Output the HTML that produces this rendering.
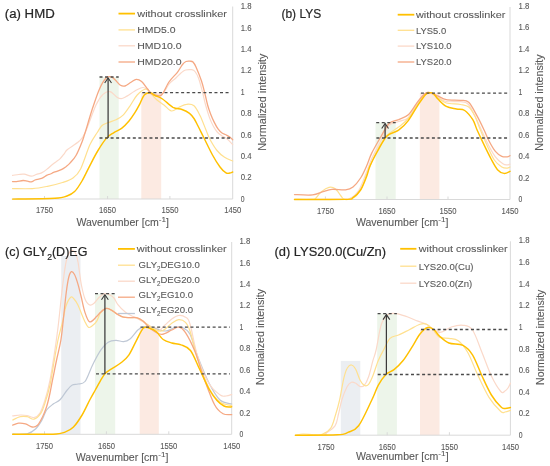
<!DOCTYPE html>
<html><head><meta charset="utf-8"><style>
html,body{margin:0;padding:0;background:#fff;}
svg{display:block;filter:blur(0.3px);font-family:"Liberation Sans",sans-serif;}
.ttl{stroke-width:0.2px;}
</style></head><body>
<svg width="550" height="466" viewBox="0 0 550 466">
<rect width="550" height="466" fill="#fff"/>
<rect x="99.5" y="77.0" width="19.2" height="122.0" fill="#EDF5EA"/>
<rect x="141.3" y="92.7" width="19.9" height="106.3" fill="#FCEAE2"/>
<line x1="12.5" y1="199.0" x2="232.7" y2="199.0" stroke="#D9D9D9" stroke-width="1.00"/>
<line x1="232.7" y1="6.5" x2="232.7" y2="199.0" stroke="#D9D9D9" stroke-width="1.00"/>
<line x1="44.5" y1="196.0" x2="44.5" y2="199.0" stroke="#D9D9D9" stroke-width="1.00"/>
<text stroke-width="0.1" x="44.5" y="213.3" font-size="8.28" fill="#595959" stroke="#595959" text-anchor="middle" textLength="17.0" lengthAdjust="spacingAndGlyphs">1750</text>
<line x1="107.6" y1="196.0" x2="107.6" y2="199.0" stroke="#D9D9D9" stroke-width="1.00"/>
<text stroke-width="0.1" x="107.6" y="213.3" font-size="8.28" fill="#595959" stroke="#595959" text-anchor="middle" textLength="17.0" lengthAdjust="spacingAndGlyphs">1650</text>
<line x1="169.9" y1="196.0" x2="169.9" y2="199.0" stroke="#D9D9D9" stroke-width="1.00"/>
<text stroke-width="0.1" x="169.9" y="213.3" font-size="8.28" fill="#595959" stroke="#595959" text-anchor="middle" textLength="17.0" lengthAdjust="spacingAndGlyphs">1550</text>
<text stroke-width="0.1" x="232.7" y="213.3" font-size="8.28" fill="#595959" stroke="#595959" text-anchor="middle" textLength="17.0" lengthAdjust="spacingAndGlyphs">1450</text>
<text stroke-width="0.1" x="240.7" y="201.8" font-size="8.28" fill="#595959" stroke="#595959" text-anchor="start" textLength="3.8" lengthAdjust="spacingAndGlyphs">0</text>
<text stroke-width="0.1" x="240.7" y="180.4" font-size="8.28" fill="#595959" stroke="#595959" text-anchor="start" textLength="10.8" lengthAdjust="spacingAndGlyphs">0.2</text>
<text stroke-width="0.1" x="240.7" y="159.0" font-size="8.28" fill="#595959" stroke="#595959" text-anchor="start" textLength="10.8" lengthAdjust="spacingAndGlyphs">0.4</text>
<text stroke-width="0.1" x="240.7" y="137.7" font-size="8.28" fill="#595959" stroke="#595959" text-anchor="start" textLength="10.8" lengthAdjust="spacingAndGlyphs">0.6</text>
<text stroke-width="0.1" x="240.7" y="116.2" font-size="8.28" fill="#595959" stroke="#595959" text-anchor="start" textLength="10.8" lengthAdjust="spacingAndGlyphs">0.8</text>
<text stroke-width="0.1" x="240.7" y="94.8" font-size="8.28" fill="#595959" stroke="#595959" text-anchor="start" textLength="3.8" lengthAdjust="spacingAndGlyphs">1</text>
<text stroke-width="0.1" x="240.7" y="73.4" font-size="8.28" fill="#595959" stroke="#595959" text-anchor="start" textLength="10.8" lengthAdjust="spacingAndGlyphs">1.2</text>
<text stroke-width="0.1" x="240.7" y="52.0" font-size="8.28" fill="#595959" stroke="#595959" text-anchor="start" textLength="10.8" lengthAdjust="spacingAndGlyphs">1.4</text>
<text stroke-width="0.1" x="240.7" y="30.6" font-size="8.28" fill="#595959" stroke="#595959" text-anchor="start" textLength="10.8" lengthAdjust="spacingAndGlyphs">1.6</text>
<text stroke-width="0.1" x="240.7" y="9.3" font-size="8.28" fill="#595959" stroke="#595959" text-anchor="start" textLength="10.8" lengthAdjust="spacingAndGlyphs">1.8</text>
<text stroke-width="0.1" transform="translate(265.9 150.7) rotate(-90)" font-size="10.17" fill="#595959" stroke="#595959" textLength="97.1" lengthAdjust="spacingAndGlyphs">Normalized intensity</text>
<text stroke-width="0.1" x="76.4" y="225.6" font-size="10.32" fill="#595959" stroke="#595959" textLength="92.6" lengthAdjust="spacingAndGlyphs">Wavenumber [cm<tspan font-size="7.99" dy="-4">-1</tspan><tspan dy="4">]</tspan></text>
<path d="M12.5 175.3 C13.5 175.2 16.8 174.7 18.7 174.5 C20.6 174.3 22.1 173.9 24.2 174.2 C26.3 174.5 29.3 176.1 31.3 176.2 C33.3 176.2 34.5 175.1 36.2 174.5 C37.9 173.9 39.8 173.8 41.6 172.9 C43.4 172.0 45.5 170.4 47.1 169.1 C48.8 167.8 50.0 166.5 51.5 165.3 C53.0 164.1 54.3 163.1 55.8 162.0 C57.2 160.9 58.8 160.1 60.2 158.7 C61.7 157.2 63.3 154.8 64.5 153.3 C65.7 151.8 65.1 151.5 67.5 149.5 C69.9 147.5 76.1 144.1 79.0 141.3 C81.9 138.6 82.2 139.1 85.0 133.0 C87.8 127.0 93.0 111.4 96.0 105.0 C99.0 98.6 100.7 96.6 103.0 94.4 C105.3 92.2 107.7 91.1 110.0 91.6 C112.3 92.1 115.2 96.0 117.0 97.2 C118.8 98.4 119.8 98.6 121.1 98.6 C122.4 98.6 122.3 98.7 125.0 97.2 C127.7 95.7 134.0 91.4 137.0 89.8 C140.0 88.2 141.2 87.5 143.0 87.5 C144.8 87.5 145.6 88.5 147.6 89.8 C149.6 91.0 152.5 94.3 155.0 95.0 C157.5 95.7 160.1 95.7 162.5 93.8 C164.9 91.9 167.2 86.1 169.3 83.6 C171.5 81.0 173.5 80.3 175.4 78.5 C177.3 76.7 179.3 74.4 181.0 73.0 C182.7 71.6 183.8 70.5 185.6 70.0 C187.4 69.5 190.1 69.5 191.7 69.7 C193.3 70.0 193.9 70.1 195.0 71.5 C196.1 72.9 197.2 74.6 198.5 78.0 C199.8 81.4 201.3 87.5 202.5 92.0 C203.7 96.5 204.4 100.7 205.6 105.0 C206.8 109.3 208.2 114.0 209.5 117.6 C210.8 121.1 212.1 123.9 213.4 126.3 C214.7 128.7 215.8 130.4 217.2 132.0 C218.6 133.6 220.4 134.8 222.0 135.9 C223.6 137.0 225.1 137.4 226.9 138.8 C228.7 140.2 231.7 143.6 232.7 144.6" fill="none" stroke="#FBD9C9" stroke-width="1.20" stroke-linecap="round" stroke-linejoin="round"/>
<path d="M12.5 188.6 C15.8 188.6 26.7 189.0 32.5 188.6 C38.3 188.2 42.5 187.3 47.5 186.3 C52.5 185.3 58.2 183.9 62.5 182.5 C66.8 181.1 70.0 180.2 73.0 178.0 C76.0 175.8 77.8 174.6 80.6 169.0 C83.4 163.4 87.2 150.6 90.0 144.6 C92.8 138.6 95.1 136.0 97.1 132.8 C99.1 129.7 100.0 127.4 101.8 125.7 C103.6 124.0 105.3 123.8 107.7 122.8 C110.1 121.8 113.4 121.1 116.0 119.8 C118.6 118.5 120.7 117.5 123.1 115.1 C125.5 112.7 127.8 108.9 130.2 105.6 C132.5 102.2 134.6 97.8 137.2 95.0 C139.8 92.2 143.8 89.2 146.0 89.0 C148.2 88.8 148.8 91.7 150.6 93.5 C152.4 95.3 154.8 98.1 157.0 100.0 C159.2 101.9 161.6 103.2 164.0 105.0 C166.4 106.8 169.0 110.6 171.5 111.0 C174.0 111.4 176.5 108.4 179.0 107.3 C181.5 106.2 184.0 104.5 186.5 104.3 C189.0 104.0 191.8 103.9 194.0 105.8 C196.2 107.7 198.0 111.5 200.0 115.5 C202.0 119.5 204.4 126.2 206.0 130.0 C207.6 133.8 207.7 135.1 209.5 138.5 C211.3 141.9 214.5 147.4 217.0 150.5 C219.5 153.6 222.0 155.6 224.6 157.3 C227.2 159.1 231.3 160.4 232.7 161.0" fill="none" stroke="#FFE08F" stroke-width="1.20" stroke-linecap="round" stroke-linejoin="round"/>
<path d="M12.5 181.6 C13.2 181.6 14.7 181.8 16.5 181.6 C18.3 181.4 21.3 180.6 23.1 180.5 C24.9 180.4 26.1 180.9 27.5 181.1 C28.9 181.3 30.0 182.1 31.3 181.9 C32.6 181.7 33.7 180.5 35.1 180.0 C36.5 179.5 38.2 179.3 39.5 178.9 C40.8 178.5 41.4 178.4 42.7 177.8 C44.0 177.2 45.8 175.7 47.1 175.1 C48.4 174.5 49.3 174.4 50.4 174.0 C51.5 173.6 52.5 172.8 53.6 172.4 C54.7 172.0 55.6 171.8 56.9 171.3 C58.2 170.8 59.8 170.3 61.3 169.6 C62.8 168.9 64.1 168.0 65.6 166.9 C67.0 165.8 68.3 165.0 70.0 163.1 C71.7 161.2 74.0 159.0 76.0 155.5 C78.0 152.0 80.5 145.8 82.0 142.0 C83.5 138.2 83.3 138.3 85.0 133.0 C86.7 127.7 89.6 117.3 92.0 110.0 C94.4 102.7 97.1 94.4 99.5 89.0 C101.9 83.6 104.3 79.8 106.3 77.8 C108.3 75.8 110.0 76.6 111.5 77.0 C113.0 77.4 113.8 78.6 115.3 80.0 C116.8 81.4 118.9 84.3 120.5 85.3 C122.1 86.3 123.2 86.5 125.0 86.0 C126.8 85.5 129.1 83.4 131.0 82.3 C132.9 81.2 134.5 79.4 136.3 79.3 C138.1 79.2 139.7 79.9 141.6 81.5 C143.5 83.1 145.9 86.9 147.6 89.0 C149.3 91.1 150.4 93.2 152.0 94.3 C153.6 95.3 155.4 95.2 157.0 95.3 C158.6 95.4 159.8 97.1 161.8 94.8 C163.9 92.5 166.7 85.2 169.3 81.5 C171.9 77.8 175.2 75.1 177.4 72.3 C179.6 69.5 181.1 66.3 182.5 64.5 C183.9 62.7 184.8 62.0 186.0 61.5 C187.2 61.0 188.8 61.1 190.0 61.2 C191.2 61.3 192.0 61.0 193.0 62.0 C194.0 63.0 194.6 63.8 196.0 67.0 C197.4 70.2 200.0 76.5 201.5 81.0 C203.0 85.5 204.0 90.0 205.0 94.0 C206.0 98.0 206.7 101.7 207.6 105.0 C208.5 108.3 209.4 110.8 210.5 113.7 C211.6 116.6 213.0 119.8 214.3 122.4 C215.6 125.0 216.9 127.4 218.2 129.2 C219.5 131.0 220.7 132.1 222.0 133.0 C223.3 133.9 224.6 134.1 225.9 134.8 C227.2 135.5 228.7 136.2 229.8 137.0 C230.9 137.8 232.2 139.3 232.7 139.8" fill="none" stroke="#F5A883" stroke-width="1.30" stroke-linecap="round" stroke-linejoin="round"/>
<path d="M12.5 199.1 C19.6 199.0 45.9 198.8 55.0 198.3 C64.1 197.8 63.7 197.1 67.0 196.0 C70.3 194.9 72.1 194.1 74.6 191.6 C77.1 189.1 79.4 185.4 82.0 181.0 C84.6 176.6 87.3 170.5 90.0 165.3 C92.7 160.1 95.5 154.5 98.3 150.0 C101.0 145.5 104.0 141.0 106.5 138.1 C109.0 135.2 111.0 134.5 113.6 132.8 C116.2 131.1 119.3 130.1 121.9 128.1 C124.5 126.1 126.8 123.6 129.0 121.0 C131.2 118.4 133.1 115.5 134.9 112.7 C136.7 109.9 138.0 107.4 139.6 104.4 C141.2 101.5 142.5 96.9 144.3 95.0 C146.1 93.1 148.8 92.7 150.6 92.8 C152.4 92.9 153.0 94.5 155.0 95.5 C157.0 96.5 159.5 97.0 162.5 99.0 C165.5 101.0 169.8 105.5 173.0 107.3 C176.2 109.0 179.2 108.5 182.0 109.5 C184.8 110.5 187.5 111.8 189.5 113.3 C191.5 114.8 192.6 116.4 194.0 118.5 C195.4 120.6 196.4 122.9 198.0 126.0 C199.6 129.1 201.1 132.2 203.5 137.0 C205.9 141.8 209.8 150.0 212.5 155.0 C215.2 160.0 217.8 164.0 220.0 167.0 C222.2 170.0 224.2 171.9 226.0 172.9 C227.8 173.9 229.5 173.1 230.6 172.9 C231.7 172.8 232.3 172.2 232.7 172.0" fill="none" stroke="#FFC000" stroke-width="1.45" stroke-linecap="round" stroke-linejoin="round"/>
<line x1="99.5" y1="77.0" x2="118.7" y2="77.0" stroke="#4A4A4A" stroke-width="1.30" stroke-dasharray="3 2.55"/>
<line x1="142.3" y1="92.7" x2="231.0" y2="92.7" stroke="#4A4A4A" stroke-width="1.30" stroke-dasharray="3 2.55"/>
<line x1="99.5" y1="138.0" x2="232.0" y2="138.0" stroke="#4A4A4A" stroke-width="1.30" stroke-dasharray="3 2.55"/>
<line x1="108.1" y1="138.0" x2="108.1" y2="78.2" stroke="#3A3A3A" stroke-width="1.25"/>
<polyline points="104.7,83.0 108.1,78.0 111.5,83.0" fill="none" stroke="#3A3A3A" stroke-width="1.1"/>
<text stroke-width="0.1" x="4.8" y="18.4" font-size="12.65" fill="#262626" stroke="#262626" text-anchor="start" textLength="49.9" lengthAdjust="spacingAndGlyphs" class="ttl">(a) HMD</text>
<line x1="118.5" y1="13.6" x2="135.0" y2="13.6" stroke="#FFC000" stroke-width="1.80"/>
<text stroke-width="0.1" x="137.3" y="17.1" font-size="9.88" fill="#595959" stroke="#595959" text-anchor="start" textLength="89.7" lengthAdjust="spacingAndGlyphs">without crosslinker</text>
<line x1="118.5" y1="29.9" x2="135.0" y2="29.9" stroke="#FFE08F" stroke-width="1.30"/>
<text stroke-width="0.1" x="137.3" y="33.2" font-size="9.88" fill="#595959" stroke="#595959" text-anchor="start" textLength="38.2" lengthAdjust="spacingAndGlyphs">HMD5.0</text>
<line x1="118.5" y1="45.8" x2="135.0" y2="45.8" stroke="#FBD9C9" stroke-width="1.30"/>
<text stroke-width="0.1" x="137.3" y="49.1" font-size="9.88" fill="#595959" stroke="#595959" text-anchor="start" textLength="44.3" lengthAdjust="spacingAndGlyphs">HMD10.0</text>
<line x1="118.5" y1="62.0" x2="135.0" y2="62.0" stroke="#F5A883" stroke-width="1.30"/>
<text stroke-width="0.1" x="137.3" y="65.3" font-size="9.88" fill="#595959" stroke="#595959" text-anchor="start" textLength="44.3" lengthAdjust="spacingAndGlyphs">HMD20.0</text>
<rect x="375.5" y="122.5" width="20.2" height="77.0" fill="#EDF5EA"/>
<rect x="419.8" y="93.1" width="19.6" height="106.4" fill="#FCEAE2"/>
<line x1="294.0" y1="199.5" x2="510.0" y2="199.5" stroke="#D9D9D9" stroke-width="1.00"/>
<line x1="510.0" y1="7.0" x2="510.0" y2="199.5" stroke="#D9D9D9" stroke-width="1.00"/>
<line x1="325.4" y1="196.5" x2="325.4" y2="199.5" stroke="#D9D9D9" stroke-width="1.00"/>
<text stroke-width="0.1" x="325.4" y="213.6" font-size="8.28" fill="#595959" stroke="#595959" text-anchor="middle" textLength="17.0" lengthAdjust="spacingAndGlyphs">1750</text>
<line x1="387.0" y1="196.5" x2="387.0" y2="199.5" stroke="#D9D9D9" stroke-width="1.00"/>
<text stroke-width="0.1" x="387.0" y="213.6" font-size="8.28" fill="#595959" stroke="#595959" text-anchor="middle" textLength="17.0" lengthAdjust="spacingAndGlyphs">1650</text>
<line x1="448.0" y1="196.5" x2="448.0" y2="199.5" stroke="#D9D9D9" stroke-width="1.00"/>
<text stroke-width="0.1" x="448.0" y="213.6" font-size="8.28" fill="#595959" stroke="#595959" text-anchor="middle" textLength="17.0" lengthAdjust="spacingAndGlyphs">1550</text>
<text stroke-width="0.1" x="510.0" y="213.6" font-size="8.28" fill="#595959" stroke="#595959" text-anchor="middle" textLength="17.0" lengthAdjust="spacingAndGlyphs">1450</text>
<text stroke-width="0.1" x="518.6" y="202.4" font-size="8.28" fill="#595959" stroke="#595959" text-anchor="start" textLength="3.8" lengthAdjust="spacingAndGlyphs">0</text>
<text stroke-width="0.1" x="518.6" y="180.9" font-size="8.28" fill="#595959" stroke="#595959" text-anchor="start" textLength="10.8" lengthAdjust="spacingAndGlyphs">0.2</text>
<text stroke-width="0.1" x="518.6" y="159.4" font-size="8.28" fill="#595959" stroke="#595959" text-anchor="start" textLength="10.8" lengthAdjust="spacingAndGlyphs">0.4</text>
<text stroke-width="0.1" x="518.6" y="137.9" font-size="8.28" fill="#595959" stroke="#595959" text-anchor="start" textLength="10.8" lengthAdjust="spacingAndGlyphs">0.6</text>
<text stroke-width="0.1" x="518.6" y="116.4" font-size="8.28" fill="#595959" stroke="#595959" text-anchor="start" textLength="10.8" lengthAdjust="spacingAndGlyphs">0.8</text>
<text stroke-width="0.1" x="518.6" y="94.9" font-size="8.28" fill="#595959" stroke="#595959" text-anchor="start" textLength="3.8" lengthAdjust="spacingAndGlyphs">1</text>
<text stroke-width="0.1" x="518.6" y="73.4" font-size="8.28" fill="#595959" stroke="#595959" text-anchor="start" textLength="10.8" lengthAdjust="spacingAndGlyphs">1.2</text>
<text stroke-width="0.1" x="518.6" y="51.9" font-size="8.28" fill="#595959" stroke="#595959" text-anchor="start" textLength="10.8" lengthAdjust="spacingAndGlyphs">1.4</text>
<text stroke-width="0.1" x="518.6" y="30.4" font-size="8.28" fill="#595959" stroke="#595959" text-anchor="start" textLength="10.8" lengthAdjust="spacingAndGlyphs">1.6</text>
<text stroke-width="0.1" x="518.6" y="8.9" font-size="8.28" fill="#595959" stroke="#595959" text-anchor="start" textLength="10.8" lengthAdjust="spacingAndGlyphs">1.8</text>
<text stroke-width="0.1" transform="translate(542.8 150.7) rotate(-90)" font-size="10.17" fill="#595959" stroke="#595959" textLength="96.2" lengthAdjust="spacingAndGlyphs">Normalized intensity</text>
<text stroke-width="0.1" x="355.9" y="225.8" font-size="10.32" fill="#595959" stroke="#595959" textLength="92.6" lengthAdjust="spacingAndGlyphs">Wavenumber [cm<tspan font-size="7.99" dy="-4">-1</tspan><tspan dy="4">]</tspan></text>
<path d="M294.5 199.4 C302.1 199.3 330.8 199.2 340.0 199.0 C349.2 198.8 346.8 199.8 350.0 198.3 C353.2 196.8 356.2 194.4 359.0 190.0 C361.8 185.6 364.4 177.3 366.6 172.0 C368.8 166.7 369.6 163.3 372.0 158.0 C374.4 152.7 378.5 145.4 381.3 140.0 C384.1 134.6 386.1 128.5 389.0 125.4 C391.9 122.3 395.4 122.8 398.6 121.5 C401.8 120.2 405.1 120.9 408.3 117.7 C411.5 114.5 415.1 106.5 418.0 102.5 C420.9 98.5 423.7 95.4 425.7 93.8 C427.7 92.2 427.9 92.1 430.0 92.7 C432.1 93.3 435.5 96.0 438.2 97.5 C440.9 99.0 442.6 100.8 446.3 101.5 C450.0 102.2 457.0 101.3 460.6 101.7 C464.2 102.1 465.6 101.7 468.0 104.0 C470.4 106.3 472.6 111.3 474.8 115.6 C477.0 119.9 479.2 125.3 481.4 130.0 C483.6 134.7 485.6 139.4 487.9 143.9 C490.2 148.4 492.9 153.5 495.4 156.8 C497.9 160.1 500.9 162.5 502.9 163.8 C504.9 165.2 506.0 164.9 507.2 164.9 C508.4 164.9 509.5 164.2 510.0 164.1" fill="none" stroke="#FBD9C9" stroke-width="1.20" stroke-linecap="round" stroke-linejoin="round"/>
<path d="M294.5 199.4 C297.4 199.4 308.5 199.6 312.0 199.4 C315.5 199.2 313.9 199.8 315.5 198.5 C317.1 197.2 319.2 193.4 321.5 191.6 C323.8 189.8 326.8 187.9 329.0 187.4 C331.2 186.9 333.0 187.2 335.0 188.6 C337.0 190.0 339.5 194.2 341.0 196.0 C342.5 197.8 342.5 198.7 344.0 199.2 C345.5 199.7 348.0 199.5 350.0 199.0 C352.0 198.5 354.0 198.0 356.0 196.0 C358.0 194.0 360.0 191.2 362.0 187.0 C364.0 182.8 365.4 177.2 368.0 171.0 C370.6 164.8 374.2 155.9 377.4 150.0 C380.6 144.1 383.5 139.3 387.0 135.5 C390.5 131.7 395.1 129.8 398.6 127.0 C402.2 124.2 405.1 122.4 408.3 118.5 C411.5 114.6 415.1 107.6 418.0 103.5 C420.9 99.4 423.7 95.8 425.7 94.0 C427.7 92.2 427.9 92.0 430.0 92.7 C432.1 93.4 435.5 96.3 438.2 98.0 C440.9 99.7 442.6 101.9 446.3 103.0 C450.0 104.1 456.9 103.8 460.6 104.5 C464.3 105.2 466.3 105.1 468.7 107.0 C471.1 108.9 472.9 112.2 474.8 116.0 C476.8 119.8 478.2 124.8 480.4 130.0 C482.6 135.2 485.6 142.2 487.9 147.2 C490.2 152.2 492.0 156.7 494.3 160.0 C496.6 163.3 499.7 165.7 501.8 167.0 C503.9 168.3 505.8 168.1 507.2 168.1 C508.6 168.1 509.5 167.2 510.0 167.0" fill="none" stroke="#FFE08F" stroke-width="1.20" stroke-linecap="round" stroke-linejoin="round"/>
<path d="M294.5 194.6 C297.5 194.7 307.8 195.4 312.5 194.9 C317.2 194.4 319.8 192.5 323.0 191.6 C326.2 190.7 328.2 189.6 332.0 189.3 C335.8 189.0 342.0 190.2 345.5 189.8 C349.0 189.4 350.5 189.0 353.0 187.0 C355.5 185.0 358.3 181.5 360.6 178.0 C362.9 174.5 364.8 170.1 366.6 166.0 C368.4 161.9 369.2 158.4 371.6 153.4 C374.1 148.4 378.4 141.0 381.3 136.0 C384.2 131.0 386.1 126.2 389.0 123.5 C391.9 120.8 395.4 121.0 398.6 119.6 C401.8 118.1 405.1 117.8 408.3 114.8 C411.5 111.8 415.1 104.9 418.0 101.3 C420.9 97.7 423.7 94.5 425.7 93.1 C427.7 91.7 427.9 92.2 430.0 92.7 C432.1 93.2 435.5 95.0 438.2 96.2 C440.9 97.4 442.6 99.0 446.3 99.7 C450.0 100.4 456.9 99.9 460.6 100.3 C464.3 100.7 466.0 99.8 468.7 102.3 C471.4 104.8 474.3 111.0 476.9 115.6 C479.5 120.2 482.1 125.8 484.1 130.0 C486.1 134.2 487.0 137.1 488.9 140.7 C490.8 144.3 493.2 148.8 495.4 151.4 C497.5 154.0 499.8 155.4 501.8 156.3 C503.8 157.2 505.8 156.9 507.2 156.8 C508.6 156.7 509.5 155.9 510.0 155.7" fill="none" stroke="#F5A883" stroke-width="1.30" stroke-linecap="round" stroke-linejoin="round"/>
<path d="M294.5 199.4 C303.0 199.4 335.8 199.7 345.5 199.4 C355.2 199.1 350.5 199.2 353.0 197.6 C355.5 196.0 358.3 193.5 360.6 190.0 C362.9 186.5 365.0 180.5 366.6 176.5 C368.2 172.5 368.2 170.2 370.0 166.0 C371.8 161.8 374.6 156.5 377.4 151.5 C380.2 146.5 383.5 139.6 387.0 136.0 C390.5 132.4 395.1 132.8 398.6 130.2 C402.2 127.6 405.1 124.8 408.3 120.6 C411.5 116.4 415.1 109.4 418.0 105.1 C420.9 100.8 423.7 96.6 425.7 94.5 C427.7 92.4 428.7 92.9 430.0 92.7 C431.3 92.5 432.0 92.4 433.4 93.5 C434.8 94.6 436.0 97.1 438.2 99.3 C440.4 101.5 443.2 104.8 446.3 106.4 C449.4 108.0 453.4 108.3 456.5 109.0 C459.6 109.7 462.0 108.7 464.7 110.5 C467.4 112.3 470.7 116.5 472.8 119.7 C474.9 123.0 475.3 126.0 477.1 130.0 C478.9 134.0 481.3 139.1 483.6 143.9 C485.9 148.7 488.8 154.7 491.1 159.0 C493.4 163.3 495.4 167.3 497.5 169.7 C499.6 172.1 501.9 173.1 504.0 173.4 C506.1 173.7 509.0 171.7 510.0 171.3" fill="none" stroke="#FFC000" stroke-width="1.45" stroke-linecap="round" stroke-linejoin="round"/>
<line x1="376.2" y1="122.7" x2="395.7" y2="122.7" stroke="#4A4A4A" stroke-width="1.30" stroke-dasharray="3 2.55"/>
<line x1="420.9" y1="93.2" x2="508.5" y2="93.2" stroke="#4A4A4A" stroke-width="1.30" stroke-dasharray="3 2.55"/>
<line x1="376.4" y1="138.0" x2="508.5" y2="138.0" stroke="#4A4A4A" stroke-width="1.30" stroke-dasharray="3 2.55"/>
<line x1="385.1" y1="138.0" x2="385.1" y2="123.7" stroke="#3A3A3A" stroke-width="1.25"/>
<polyline points="381.7,128.5 385.1,123.5 388.5,128.5" fill="none" stroke="#3A3A3A" stroke-width="1.1"/>
<text stroke-width="0.1" x="281.4" y="18.4" font-size="12.65" fill="#262626" stroke="#262626" text-anchor="start" textLength="39.8" lengthAdjust="spacingAndGlyphs" class="ttl">(b) LYS</text>
<line x1="397.7" y1="14.7" x2="414.3" y2="14.7" stroke="#FFC000" stroke-width="1.80"/>
<text stroke-width="0.1" x="416.0" y="18.2" font-size="9.88" fill="#595959" stroke="#595959" text-anchor="start" textLength="89.3" lengthAdjust="spacingAndGlyphs">without crosslinker</text>
<line x1="397.7" y1="30.3" x2="414.3" y2="30.3" stroke="#FFE08F" stroke-width="1.30"/>
<text stroke-width="0.1" x="416.0" y="33.6" font-size="9.88" fill="#595959" stroke="#595959" text-anchor="start" textLength="30.2" lengthAdjust="spacingAndGlyphs">LYS5.0</text>
<line x1="397.7" y1="46.1" x2="414.3" y2="46.1" stroke="#FBD9C9" stroke-width="1.30"/>
<text stroke-width="0.1" x="416.0" y="49.4" font-size="9.88" fill="#595959" stroke="#595959" text-anchor="start" textLength="35.6" lengthAdjust="spacingAndGlyphs">LYS10.0</text>
<line x1="397.7" y1="62.0" x2="414.3" y2="62.0" stroke="#F5A883" stroke-width="1.30"/>
<text stroke-width="0.1" x="416.0" y="65.3" font-size="9.88" fill="#595959" stroke="#595959" text-anchor="start" textLength="35.6" lengthAdjust="spacingAndGlyphs">LYS20.0</text>
<rect x="61.2" y="256.0" width="19.3" height="178.3" fill="#EBEEF2"/>
<rect x="95.0" y="293.7" width="20.2" height="140.6" fill="#EDF5EA"/>
<rect x="139.7" y="327.1" width="19.1" height="107.2" fill="#FCEAE2"/>
<line x1="12.7" y1="434.3" x2="231.7" y2="434.3" stroke="#D9D9D9" stroke-width="1.00"/>
<line x1="231.7" y1="242.0" x2="231.7" y2="434.3" stroke="#D9D9D9" stroke-width="1.00"/>
<line x1="44.5" y1="431.3" x2="44.5" y2="434.3" stroke="#D9D9D9" stroke-width="1.00"/>
<text stroke-width="0.1" x="44.5" y="449.1" font-size="8.28" fill="#595959" stroke="#595959" text-anchor="middle" textLength="17.0" lengthAdjust="spacingAndGlyphs">1750</text>
<line x1="106.4" y1="431.3" x2="106.4" y2="434.3" stroke="#D9D9D9" stroke-width="1.00"/>
<text stroke-width="0.1" x="106.4" y="449.1" font-size="8.28" fill="#595959" stroke="#595959" text-anchor="middle" textLength="17.0" lengthAdjust="spacingAndGlyphs">1650</text>
<line x1="168.8" y1="431.3" x2="168.8" y2="434.3" stroke="#D9D9D9" stroke-width="1.00"/>
<text stroke-width="0.1" x="168.8" y="449.1" font-size="8.28" fill="#595959" stroke="#595959" text-anchor="middle" textLength="17.0" lengthAdjust="spacingAndGlyphs">1550</text>
<text stroke-width="0.1" x="231.7" y="449.1" font-size="8.28" fill="#595959" stroke="#595959" text-anchor="middle" textLength="17.0" lengthAdjust="spacingAndGlyphs">1450</text>
<text stroke-width="0.1" x="239.5" y="437.1" font-size="8.28" fill="#595959" stroke="#595959" text-anchor="start" textLength="3.8" lengthAdjust="spacingAndGlyphs">0</text>
<text stroke-width="0.1" x="239.5" y="415.6" font-size="8.28" fill="#595959" stroke="#595959" text-anchor="start" textLength="10.8" lengthAdjust="spacingAndGlyphs">0.2</text>
<text stroke-width="0.1" x="239.5" y="394.2" font-size="8.28" fill="#595959" stroke="#595959" text-anchor="start" textLength="10.8" lengthAdjust="spacingAndGlyphs">0.4</text>
<text stroke-width="0.1" x="239.5" y="372.7" font-size="8.28" fill="#595959" stroke="#595959" text-anchor="start" textLength="10.8" lengthAdjust="spacingAndGlyphs">0.6</text>
<text stroke-width="0.1" x="239.5" y="351.3" font-size="8.28" fill="#595959" stroke="#595959" text-anchor="start" textLength="10.8" lengthAdjust="spacingAndGlyphs">0.8</text>
<text stroke-width="0.1" x="239.5" y="329.9" font-size="8.28" fill="#595959" stroke="#595959" text-anchor="start" textLength="3.8" lengthAdjust="spacingAndGlyphs">1</text>
<text stroke-width="0.1" x="239.5" y="308.4" font-size="8.28" fill="#595959" stroke="#595959" text-anchor="start" textLength="10.8" lengthAdjust="spacingAndGlyphs">1.2</text>
<text stroke-width="0.1" x="239.5" y="287.0" font-size="8.28" fill="#595959" stroke="#595959" text-anchor="start" textLength="10.8" lengthAdjust="spacingAndGlyphs">1.4</text>
<text stroke-width="0.1" x="239.5" y="265.5" font-size="8.28" fill="#595959" stroke="#595959" text-anchor="start" textLength="10.8" lengthAdjust="spacingAndGlyphs">1.6</text>
<text stroke-width="0.1" x="239.5" y="244.1" font-size="8.28" fill="#595959" stroke="#595959" text-anchor="start" textLength="10.8" lengthAdjust="spacingAndGlyphs">1.8</text>
<text stroke-width="0.1" transform="translate(264.0 385.0) rotate(-90)" font-size="10.17" fill="#595959" stroke="#595959" textLength="96.0" lengthAdjust="spacingAndGlyphs">Normalized intensity</text>
<text stroke-width="0.1" x="75.8" y="460.8" font-size="10.32" fill="#595959" stroke="#595959" textLength="92.6" lengthAdjust="spacingAndGlyphs">Wavenumber [cm<tspan font-size="7.99" dy="-4">-1</tspan><tspan dy="4">]</tspan></text>
<path d="M12.7 434.2 C15.1 434.1 23.4 434.7 27.2 433.8 C31.0 432.9 33.3 431.0 35.8 428.7 C38.3 426.4 40.2 423.1 42.0 420.0 C43.8 416.9 44.7 412.7 46.6 410.0 C48.5 407.3 51.2 405.6 53.5 403.8 C55.8 402.1 58.0 401.8 60.3 399.5 C62.6 397.2 65.2 392.4 67.2 390.0 C69.2 387.6 70.5 386.0 72.3 385.0 C74.1 384.0 75.9 384.6 78.0 384.0 C80.1 383.4 82.5 384.7 85.0 381.5 C87.5 378.3 90.1 369.8 92.7 364.7 C95.3 359.6 97.8 354.4 100.4 350.6 C103.0 346.9 105.6 343.9 108.2 342.2 C110.8 340.5 113.3 340.4 115.9 340.3 C118.5 340.2 121.2 341.8 123.6 341.6 C125.9 341.4 127.6 340.9 130.0 339.0 C132.4 337.1 135.6 332.0 137.8 330.0 C140.0 328.0 141.1 327.6 143.0 327.0 C144.9 326.4 146.7 326.1 149.5 326.6 C152.3 327.1 156.9 329.3 159.8 330.0 C162.7 330.7 164.1 331.3 166.7 330.9 C169.3 330.5 172.6 328.1 175.2 327.5 C177.8 326.9 179.6 326.4 182.1 327.5 C184.6 328.6 187.4 329.4 190.0 334.3 C192.6 339.2 194.7 348.9 197.9 357.0 C201.1 365.1 205.3 375.8 209.0 383.0 C212.7 390.2 216.2 396.5 220.0 400.0 C223.8 403.5 229.8 403.3 231.7 404.0" fill="none" stroke="#BFC8D5" stroke-width="1.20" stroke-linecap="round" stroke-linejoin="round"/>
<path d="M12.7 415.8 C14.0 415.7 17.9 415.1 20.3 415.0 C22.7 414.9 24.7 415.1 27.0 415.5 C29.3 415.9 31.8 417.9 34.0 417.5 C36.2 417.1 38.2 415.9 40.0 413.0 C41.8 410.1 43.3 405.5 45.0 400.0 C46.7 394.5 48.5 387.3 50.0 380.0 C51.5 372.7 52.7 364.3 54.0 356.0 C55.3 347.7 56.5 339.3 57.7 330.0 C58.9 320.7 60.0 309.2 61.0 300.0 C62.0 290.8 63.1 281.7 64.0 275.0 C64.9 268.3 65.5 263.9 66.5 260.0 C67.5 256.1 69.0 253.1 70.0 251.5 C71.0 249.9 71.6 250.2 72.5 250.5 C73.4 250.8 74.6 251.1 75.5 253.0 C76.4 254.9 77.0 256.8 78.0 262.0 C79.0 267.2 80.1 278.3 81.3 284.5 C82.5 290.7 83.6 295.6 85.0 299.0 C86.4 302.4 88.2 304.3 89.8 305.0 C91.3 305.7 92.8 304.2 94.3 303.0 C95.8 301.8 97.2 299.1 99.0 297.5 C100.8 295.9 103.0 294.1 104.8 293.7 C106.6 293.3 108.5 294.3 110.0 295.0 C111.5 295.7 112.7 296.4 114.0 298.0 C115.3 299.6 116.0 302.2 117.9 304.6 C119.8 307.0 123.0 310.3 125.5 312.3 C128.1 314.3 130.8 315.3 133.2 316.6 C135.6 317.9 137.2 318.4 140.0 320.0 C142.8 321.6 147.0 324.2 150.0 326.0 C153.0 327.8 155.5 331.2 158.0 331.0 C160.5 330.8 162.7 327.0 165.0 325.0 C167.3 323.0 169.5 320.5 171.8 318.9 C174.1 317.3 176.4 315.8 178.7 315.5 C181.0 315.2 183.6 315.8 185.5 317.2 C187.4 318.6 187.9 317.3 190.0 324.0 C192.1 330.7 194.7 347.5 197.9 357.4 C201.1 367.3 205.3 377.2 209.0 383.5 C212.7 389.8 217.4 392.9 220.2 395.0 C223.0 397.1 224.1 396.1 226.0 396.0 C227.9 395.9 230.8 394.8 231.7 394.5" fill="none" stroke="#FBD9C9" stroke-width="1.20" stroke-linecap="round" stroke-linejoin="round"/>
<path d="M12.7 420.0 C14.0 419.4 17.9 417.2 20.3 416.7 C22.7 416.1 24.9 416.3 27.2 416.7 C29.5 417.1 31.7 419.8 34.0 419.2 C36.3 418.6 39.1 415.9 40.9 413.2 C42.7 410.5 43.5 407.7 45.0 403.0 C46.5 398.3 48.5 391.8 50.0 385.0 C51.5 378.2 52.7 369.5 54.0 362.0 C55.3 354.5 56.6 346.7 58.0 340.0 C59.4 333.3 61.2 327.7 62.5 322.0 C63.8 316.3 64.6 310.1 66.0 306.0 C67.4 301.9 69.4 298.5 70.7 297.3 C72.0 296.1 72.8 297.8 74.0 299.0 C75.2 300.2 76.0 301.1 77.8 304.8 C79.6 308.5 83.0 317.6 84.8 321.4 C86.6 325.1 87.2 326.5 88.4 327.3 C89.6 328.1 90.6 327.0 92.0 326.0 C93.4 325.0 95.2 323.6 96.6 321.4 C98.0 319.2 99.0 315.1 100.5 313.0 C102.0 310.9 104.1 309.0 105.9 308.5 C107.7 308.0 109.6 309.2 111.4 310.1 C113.2 311.0 114.8 312.7 116.8 313.9 C118.8 315.1 121.2 316.6 123.4 317.2 C125.6 317.8 127.7 317.6 129.9 317.7 C132.1 317.8 134.3 317.1 136.5 317.7 C138.7 318.2 140.6 319.4 143.0 321.0 C145.4 322.6 147.9 325.3 151.0 327.0 C154.1 328.7 158.0 331.6 161.5 331.0 C165.0 330.4 168.9 325.1 171.8 323.2 C174.7 321.3 176.4 319.8 178.7 319.7 C181.0 319.6 183.6 320.4 185.5 322.3 C187.4 324.2 187.9 324.7 190.0 331.0 C192.1 337.3 194.7 350.5 197.9 360.0 C201.1 369.5 205.3 381.0 209.0 388.0 C212.7 395.0 216.2 399.1 220.0 402.0 C223.8 404.9 229.8 404.9 231.7 405.5" fill="none" stroke="#FFE08F" stroke-width="1.20" stroke-linecap="round" stroke-linejoin="round"/>
<path d="M12.7 425.2 C13.7 424.9 16.5 423.4 18.6 423.2 C20.7 423.0 23.2 423.3 25.5 423.9 C27.8 424.5 30.3 426.8 32.3 427.0 C34.3 427.2 35.8 426.9 37.5 425.2 C39.2 423.5 41.0 420.0 42.5 417.0 C44.0 414.0 45.2 411.0 46.5 407.0 C47.8 403.0 49.0 397.7 50.0 393.0 C51.0 388.3 51.6 384.4 52.8 378.6 C54.0 372.8 55.6 364.4 57.0 358.0 C58.4 351.6 59.8 346.7 60.9 340.0 C62.0 333.3 62.6 326.0 63.5 318.0 C64.4 310.0 65.4 298.8 66.3 292.0 C67.2 285.2 67.9 280.4 68.8 277.0 C69.7 273.6 70.5 272.1 71.4 271.7 C72.4 271.3 73.4 272.5 74.5 274.5 C75.6 276.5 76.7 280.0 77.8 283.6 C78.9 287.2 79.8 291.3 81.0 296.0 C82.2 300.7 83.4 307.6 84.8 311.9 C86.2 316.2 87.6 321.0 89.6 321.8 C91.6 322.6 94.8 318.2 96.6 316.6 C98.4 315.0 99.0 313.7 100.5 312.3 C102.0 310.9 104.1 308.9 105.9 308.5 C107.7 308.1 109.6 309.2 111.4 310.1 C113.2 311.0 114.8 312.7 116.8 313.9 C118.8 315.1 121.2 316.6 123.4 317.2 C125.6 317.8 127.7 317.6 129.9 317.7 C132.1 317.8 134.3 317.1 136.5 317.7 C138.7 318.2 140.6 319.1 143.0 321.0 C145.4 322.9 148.1 327.0 151.2 329.2 C154.3 331.4 158.1 334.2 161.5 334.3 C164.9 334.4 168.9 331.2 171.8 330.0 C174.7 328.8 176.4 326.7 178.7 327.1 C181.0 327.5 182.8 328.5 185.5 332.6 C188.2 336.7 192.1 344.4 195.1 351.8 C198.1 359.2 200.2 368.1 203.5 376.9 C206.8 385.7 211.3 398.7 214.6 404.8 C217.8 410.9 220.2 412.1 223.0 413.7 C225.8 415.3 230.2 414.5 231.7 414.6" fill="none" stroke="#F5A883" stroke-width="1.30" stroke-linecap="round" stroke-linejoin="round"/>
<path d="M12.7 434.2 C19.4 434.2 44.3 434.5 53.0 434.2 C61.7 433.9 61.6 433.3 65.0 432.1 C68.4 430.9 70.7 429.9 73.5 427.0 C76.3 424.1 79.3 419.6 82.1 415.0 C84.8 410.4 87.8 403.7 90.0 399.5 C92.2 395.3 93.6 393.1 95.3 390.0 C97.0 386.9 98.7 383.6 100.4 380.8 C102.1 378.0 103.7 375.1 105.6 373.1 C107.5 371.1 109.4 370.3 112.0 368.6 C114.6 366.9 118.2 365.1 121.0 362.8 C123.8 360.6 126.2 358.9 128.8 355.1 C131.4 351.4 134.1 344.8 136.5 340.3 C138.9 335.8 141.3 330.0 143.5 328.0 C145.7 326.0 147.3 327.7 149.5 328.3 C151.7 328.9 154.1 329.9 156.4 331.8 C158.7 333.7 160.6 337.6 163.2 339.5 C165.8 341.4 168.8 342.1 171.8 343.0 C174.8 343.9 178.1 343.6 181.2 344.9 C184.3 346.1 187.4 346.5 190.5 350.5 C193.6 354.5 196.4 362.6 199.5 369.0 C202.6 375.4 206.1 383.8 209.0 389.0 C211.9 394.2 214.5 397.7 217.0 400.5 C219.5 403.3 221.8 404.9 224.0 406.0 C226.2 407.1 228.6 406.9 229.9 407.0 C231.2 407.1 231.4 406.8 231.7 406.8" fill="none" stroke="#FFC000" stroke-width="1.45" stroke-linecap="round" stroke-linejoin="round"/>
<line x1="95.0" y1="293.6" x2="115.0" y2="293.6" stroke="#4A4A4A" stroke-width="1.30" stroke-dasharray="3 2.55"/>
<line x1="140.5" y1="327.2" x2="230.0" y2="327.2" stroke="#4A4A4A" stroke-width="1.30" stroke-dasharray="3 2.55"/>
<line x1="96.0" y1="373.9" x2="230.0" y2="373.9" stroke="#4A4A4A" stroke-width="1.30" stroke-dasharray="3 2.55"/>
<line x1="104.9" y1="373.9" x2="104.9" y2="294.9" stroke="#3A3A3A" stroke-width="1.25"/>
<polyline points="101.5,299.7 104.9,294.7 108.3,299.7" fill="none" stroke="#3A3A3A" stroke-width="1.1"/>
<text stroke-width="0.1" class="ttl" x="5" y="256" font-size="12.65" fill="#262626" stroke="#262626" textLength="82.4" lengthAdjust="spacingAndGlyphs">(c) GLY<tspan font-size="8.72" dy="4.2">2</tspan><tspan dy="-4.2">(D)EG</tspan></text>
<line x1="118.0" y1="248.9" x2="134.9" y2="248.9" stroke="#FFC000" stroke-width="1.80"/>
<line x1="118.0" y1="265.2" x2="134.9" y2="265.2" stroke="#FFE08F" stroke-width="1.30"/>
<line x1="118.0" y1="281.2" x2="134.9" y2="281.2" stroke="#FBD9C9" stroke-width="1.30"/>
<line x1="118.0" y1="297.2" x2="134.9" y2="297.2" stroke="#F5A883" stroke-width="1.30"/>
<line x1="118.0" y1="313.5" x2="134.9" y2="313.5" stroke="#BFC8D5" stroke-width="1.30"/>
<text stroke-width="0.1" x="136.8" y="252.4" font-size="9.88" fill="#595959" stroke="#595959" text-anchor="start" textLength="89.8" lengthAdjust="spacingAndGlyphs">without crosslinker</text>
<text stroke-width="0.1" x="138.6" y="267.8" font-size="9.88" fill="#595959" stroke="#595959" textLength="61.2" lengthAdjust="spacingAndGlyphs">GLY<tspan font-size="6.40" dy="3.2">2</tspan><tspan dy="-3.2">DEG10.0</tspan></text>
<text stroke-width="0.1" x="138.6" y="282.8" font-size="9.88" fill="#595959" stroke="#595959" textLength="61.2" lengthAdjust="spacingAndGlyphs">GLY<tspan font-size="6.40" dy="3.2">2</tspan><tspan dy="-3.2">DEG20.0</tspan></text>
<text stroke-width="0.1" x="138.6" y="298.0" font-size="9.88" fill="#595959" stroke="#595959" textLength="54.4" lengthAdjust="spacingAndGlyphs">GLY<tspan font-size="6.40" dy="3.2">2</tspan><tspan dy="-3.2">EG10.0</tspan></text>
<text stroke-width="0.1" x="138.6" y="312.6" font-size="9.88" fill="#595959" stroke="#595959" textLength="54.4" lengthAdjust="spacingAndGlyphs">GLY<tspan font-size="6.40" dy="3.2">2</tspan><tspan dy="-3.2">EG20.0</tspan></text>
<rect x="340.8" y="360.9" width="19.5" height="74.3" fill="#EBEEF2"/>
<rect x="377.2" y="313.6" width="19.7" height="121.6" fill="#EDF5EA"/>
<rect x="420.0" y="329.6" width="19.5" height="105.6" fill="#FCEAE2"/>
<line x1="295.4" y1="435.2" x2="510.4" y2="435.2" stroke="#D9D9D9" stroke-width="1.00"/>
<line x1="510.4" y1="241.3" x2="510.4" y2="435.2" stroke="#D9D9D9" stroke-width="1.00"/>
<line x1="325.9" y1="432.2" x2="325.9" y2="435.2" stroke="#D9D9D9" stroke-width="1.00"/>
<text stroke-width="0.1" x="325.9" y="450.2" font-size="8.28" fill="#595959" stroke="#595959" text-anchor="middle" textLength="17.0" lengthAdjust="spacingAndGlyphs">1750</text>
<line x1="387.2" y1="432.2" x2="387.2" y2="435.2" stroke="#D9D9D9" stroke-width="1.00"/>
<text stroke-width="0.1" x="387.2" y="450.2" font-size="8.28" fill="#595959" stroke="#595959" text-anchor="middle" textLength="17.0" lengthAdjust="spacingAndGlyphs">1650</text>
<line x1="449.4" y1="432.2" x2="449.4" y2="435.2" stroke="#D9D9D9" stroke-width="1.00"/>
<text stroke-width="0.1" x="449.4" y="450.2" font-size="8.28" fill="#595959" stroke="#595959" text-anchor="middle" textLength="17.0" lengthAdjust="spacingAndGlyphs">1550</text>
<text stroke-width="0.1" x="510.4" y="450.2" font-size="8.28" fill="#595959" stroke="#595959" text-anchor="middle" textLength="17.0" lengthAdjust="spacingAndGlyphs">1450</text>
<text stroke-width="0.1" x="518.8" y="438.1" font-size="8.28" fill="#595959" stroke="#595959" text-anchor="start" textLength="3.8" lengthAdjust="spacingAndGlyphs">0</text>
<text stroke-width="0.1" x="518.8" y="416.4" font-size="8.28" fill="#595959" stroke="#595959" text-anchor="start" textLength="10.8" lengthAdjust="spacingAndGlyphs">0.2</text>
<text stroke-width="0.1" x="518.8" y="394.8" font-size="8.28" fill="#595959" stroke="#595959" text-anchor="start" textLength="10.8" lengthAdjust="spacingAndGlyphs">0.4</text>
<text stroke-width="0.1" x="518.8" y="373.1" font-size="8.28" fill="#595959" stroke="#595959" text-anchor="start" textLength="10.8" lengthAdjust="spacingAndGlyphs">0.6</text>
<text stroke-width="0.1" x="518.8" y="351.5" font-size="8.28" fill="#595959" stroke="#595959" text-anchor="start" textLength="10.8" lengthAdjust="spacingAndGlyphs">0.8</text>
<text stroke-width="0.1" x="518.8" y="329.9" font-size="8.28" fill="#595959" stroke="#595959" text-anchor="start" textLength="3.8" lengthAdjust="spacingAndGlyphs">1</text>
<text stroke-width="0.1" x="518.8" y="308.2" font-size="8.28" fill="#595959" stroke="#595959" text-anchor="start" textLength="10.8" lengthAdjust="spacingAndGlyphs">1.2</text>
<text stroke-width="0.1" x="518.8" y="286.6" font-size="8.28" fill="#595959" stroke="#595959" text-anchor="start" textLength="10.8" lengthAdjust="spacingAndGlyphs">1.4</text>
<text stroke-width="0.1" x="518.8" y="264.9" font-size="8.28" fill="#595959" stroke="#595959" text-anchor="start" textLength="10.8" lengthAdjust="spacingAndGlyphs">1.6</text>
<text stroke-width="0.1" x="518.8" y="243.3" font-size="8.28" fill="#595959" stroke="#595959" text-anchor="start" textLength="10.8" lengthAdjust="spacingAndGlyphs">1.8</text>
<text stroke-width="0.1" transform="translate(543.5 385.0) rotate(-90)" font-size="10.17" fill="#595959" stroke="#595959" textLength="95.4" lengthAdjust="spacingAndGlyphs">Normalized intensity</text>
<text stroke-width="0.1" x="356.0" y="460.0" font-size="10.32" fill="#595959" stroke="#595959" textLength="92.6" lengthAdjust="spacingAndGlyphs">Wavenumber [cm<tspan font-size="7.99" dy="-4">-1</tspan><tspan dy="4">]</tspan></text>
<path d="M324.3 434.4 C326.1 433.0 332.6 429.2 335.0 425.8 C337.4 422.4 337.4 418.3 338.5 414.0 C339.6 409.7 340.4 404.6 341.8 400.0 C343.2 395.4 345.6 389.5 347.2 386.5 C348.8 383.5 350.0 382.8 351.4 382.2 C352.8 381.6 354.3 382.5 355.7 383.2 C357.1 383.9 358.6 386.1 360.0 386.5 C361.4 386.9 362.9 387.0 364.3 385.4 C365.7 383.8 367.2 380.9 368.6 376.8 C370.0 372.7 371.6 365.2 372.9 360.7 C374.1 356.2 374.7 356.1 376.1 350.0 C377.5 343.9 379.4 330.2 381.4 324.3 C383.4 318.4 385.4 316.5 387.9 314.7 C390.4 312.9 393.3 313.2 396.5 313.6 C399.7 314.0 403.6 315.6 407.2 316.8 C410.8 318.1 414.7 319.9 417.9 321.1 C421.1 322.4 422.9 322.4 426.5 324.3 C430.1 326.2 435.3 331.9 439.4 332.4 C443.5 332.8 447.4 328.2 451.3 327.0 C455.2 325.8 459.5 324.8 463.0 325.3 C466.5 325.8 469.3 325.5 472.5 330.0 C475.7 334.5 478.9 344.8 482.0 352.5 C485.1 360.2 488.3 369.6 491.4 376.1 C494.5 382.6 498.5 389.0 500.8 391.5 C503.1 394.0 503.8 391.6 505.0 391.0 C506.2 390.4 507.1 389.3 508.0 388.0 C508.9 386.7 510.0 384.0 510.4 383.2" fill="none" stroke="#FBD9C9" stroke-width="1.20" stroke-linecap="round" stroke-linejoin="round"/>
<path d="M295.4 435.3 C296.6 435.1 299.9 434.1 302.9 434.0 C305.9 433.9 310.4 434.7 313.6 434.8 C316.8 434.9 319.3 435.5 322.2 434.4 C325.1 433.3 328.6 431.2 330.8 428.0 C333.0 424.8 334.0 419.7 335.5 415.0 C337.0 410.3 338.2 406.2 339.6 400.0 C341.0 393.8 342.6 383.2 343.9 377.9 C345.2 372.6 345.9 370.3 347.2 368.2 C348.4 366.1 350.0 364.8 351.4 365.0 C352.8 365.2 354.3 366.8 355.7 369.3 C357.1 371.8 358.6 377.3 360.0 380.0 C361.4 382.7 362.9 384.7 364.3 385.4 C365.7 386.1 367.2 385.9 368.6 384.3 C370.0 382.7 371.3 379.6 372.9 375.7 C374.5 371.8 376.4 365.0 378.2 360.7 C380.0 356.4 381.6 353.7 383.6 350.0 C385.6 346.3 387.5 340.8 390.0 338.3 C392.5 335.8 395.4 336.4 398.6 335.0 C401.8 333.6 405.7 331.5 409.3 329.7 C412.9 327.9 417.1 325.2 420.0 324.3 C422.9 323.4 424.4 323.4 426.5 324.3 C428.6 325.2 430.8 327.6 432.9 329.7 C435.0 331.8 436.7 335.8 439.4 337.2 C442.1 338.6 445.8 337.7 448.9 338.3 C452.0 338.9 455.1 338.3 458.3 340.7 C461.5 343.1 464.7 347.0 467.8 352.5 C470.9 358.0 473.7 366.3 477.2 373.8 C480.7 381.3 485.1 391.1 489.0 397.4 C492.9 403.7 498.1 409.1 500.8 411.5 C503.5 413.9 503.4 412.2 505.0 412.0 C506.6 411.8 509.5 410.7 510.4 410.4" fill="none" stroke="#FFE08F" stroke-width="1.20" stroke-linecap="round" stroke-linejoin="round"/>
<path d="M295.4 435.2 C302.4 435.1 328.4 435.3 337.2 434.8 C345.9 434.3 344.3 433.9 347.9 432.4 C351.5 430.9 354.6 431.2 358.6 425.8 C362.6 420.4 368.5 406.7 371.8 400.0 C375.1 393.3 375.9 389.6 378.2 385.4 C380.5 381.2 383.0 377.4 385.7 374.7 C388.4 372.0 391.4 371.7 394.3 369.4 C397.2 367.1 400.0 364.4 402.9 360.8 C405.8 357.2 408.6 352.4 411.5 347.9 C414.4 343.4 417.3 337.4 420.0 334.0 C422.7 330.6 425.3 328.2 427.6 327.5 C429.9 326.8 432.0 328.3 434.0 329.7 C436.0 331.1 436.9 333.8 439.4 336.0 C441.9 338.2 445.0 341.4 448.9 343.0 C452.8 344.6 459.1 343.4 463.0 345.4 C466.9 347.4 469.3 349.8 472.5 354.9 C475.7 360.0 478.9 369.3 482.0 376.0 C485.1 382.7 488.3 389.9 491.4 395.0 C494.5 400.1 498.5 404.6 500.8 406.8 C503.1 409.1 503.4 408.4 505.0 408.5 C506.6 408.6 509.5 407.7 510.4 407.5" fill="none" stroke="#FFC000" stroke-width="1.45" stroke-linecap="round" stroke-linejoin="round"/>
<line x1="377.6" y1="313.6" x2="396.9" y2="313.6" stroke="#4A4A4A" stroke-width="1.30" stroke-dasharray="3 2.55"/>
<line x1="421.0" y1="329.5" x2="509.0" y2="329.5" stroke="#4A4A4A" stroke-width="1.30" stroke-dasharray="3 2.55"/>
<line x1="377.7" y1="374.5" x2="509.0" y2="374.5" stroke="#4A4A4A" stroke-width="1.30" stroke-dasharray="3 2.55"/>
<line x1="386.4" y1="374.5" x2="386.4" y2="314.8" stroke="#3A3A3A" stroke-width="1.25"/>
<polyline points="383.0,319.6 386.4,314.6 389.8,319.6" fill="none" stroke="#3A3A3A" stroke-width="1.1"/>
<text stroke-width="0.1" x="274.5" y="255.8" font-size="12.65" fill="#262626" stroke="#262626" text-anchor="start" textLength="111.5" lengthAdjust="spacingAndGlyphs" class="ttl">(d) LYS20.0(Cu/Zn)</text>
<line x1="400.2" y1="248.8" x2="416.4" y2="248.8" stroke="#FFC000" stroke-width="1.80"/>
<text stroke-width="0.1" x="418.8" y="252.3" font-size="9.88" fill="#595959" stroke="#595959" text-anchor="start" textLength="88.9" lengthAdjust="spacingAndGlyphs">without crosslinker</text>
<line x1="400.2" y1="266.2" x2="416.4" y2="266.2" stroke="#FFE08F" stroke-width="1.30"/>
<text stroke-width="0.1" x="418.8" y="269.5" font-size="9.88" fill="#595959" stroke="#595959" text-anchor="start" textLength="54.6" lengthAdjust="spacingAndGlyphs">LYS20.0(Cu)</text>
<line x1="400.2" y1="283.2" x2="416.4" y2="283.2" stroke="#FBD9C9" stroke-width="1.30"/>
<text stroke-width="0.1" x="418.8" y="286.5" font-size="9.88" fill="#595959" stroke="#595959" text-anchor="start" textLength="53.4" lengthAdjust="spacingAndGlyphs">LYS20.0(Zn)</text>
</svg></body></html>
